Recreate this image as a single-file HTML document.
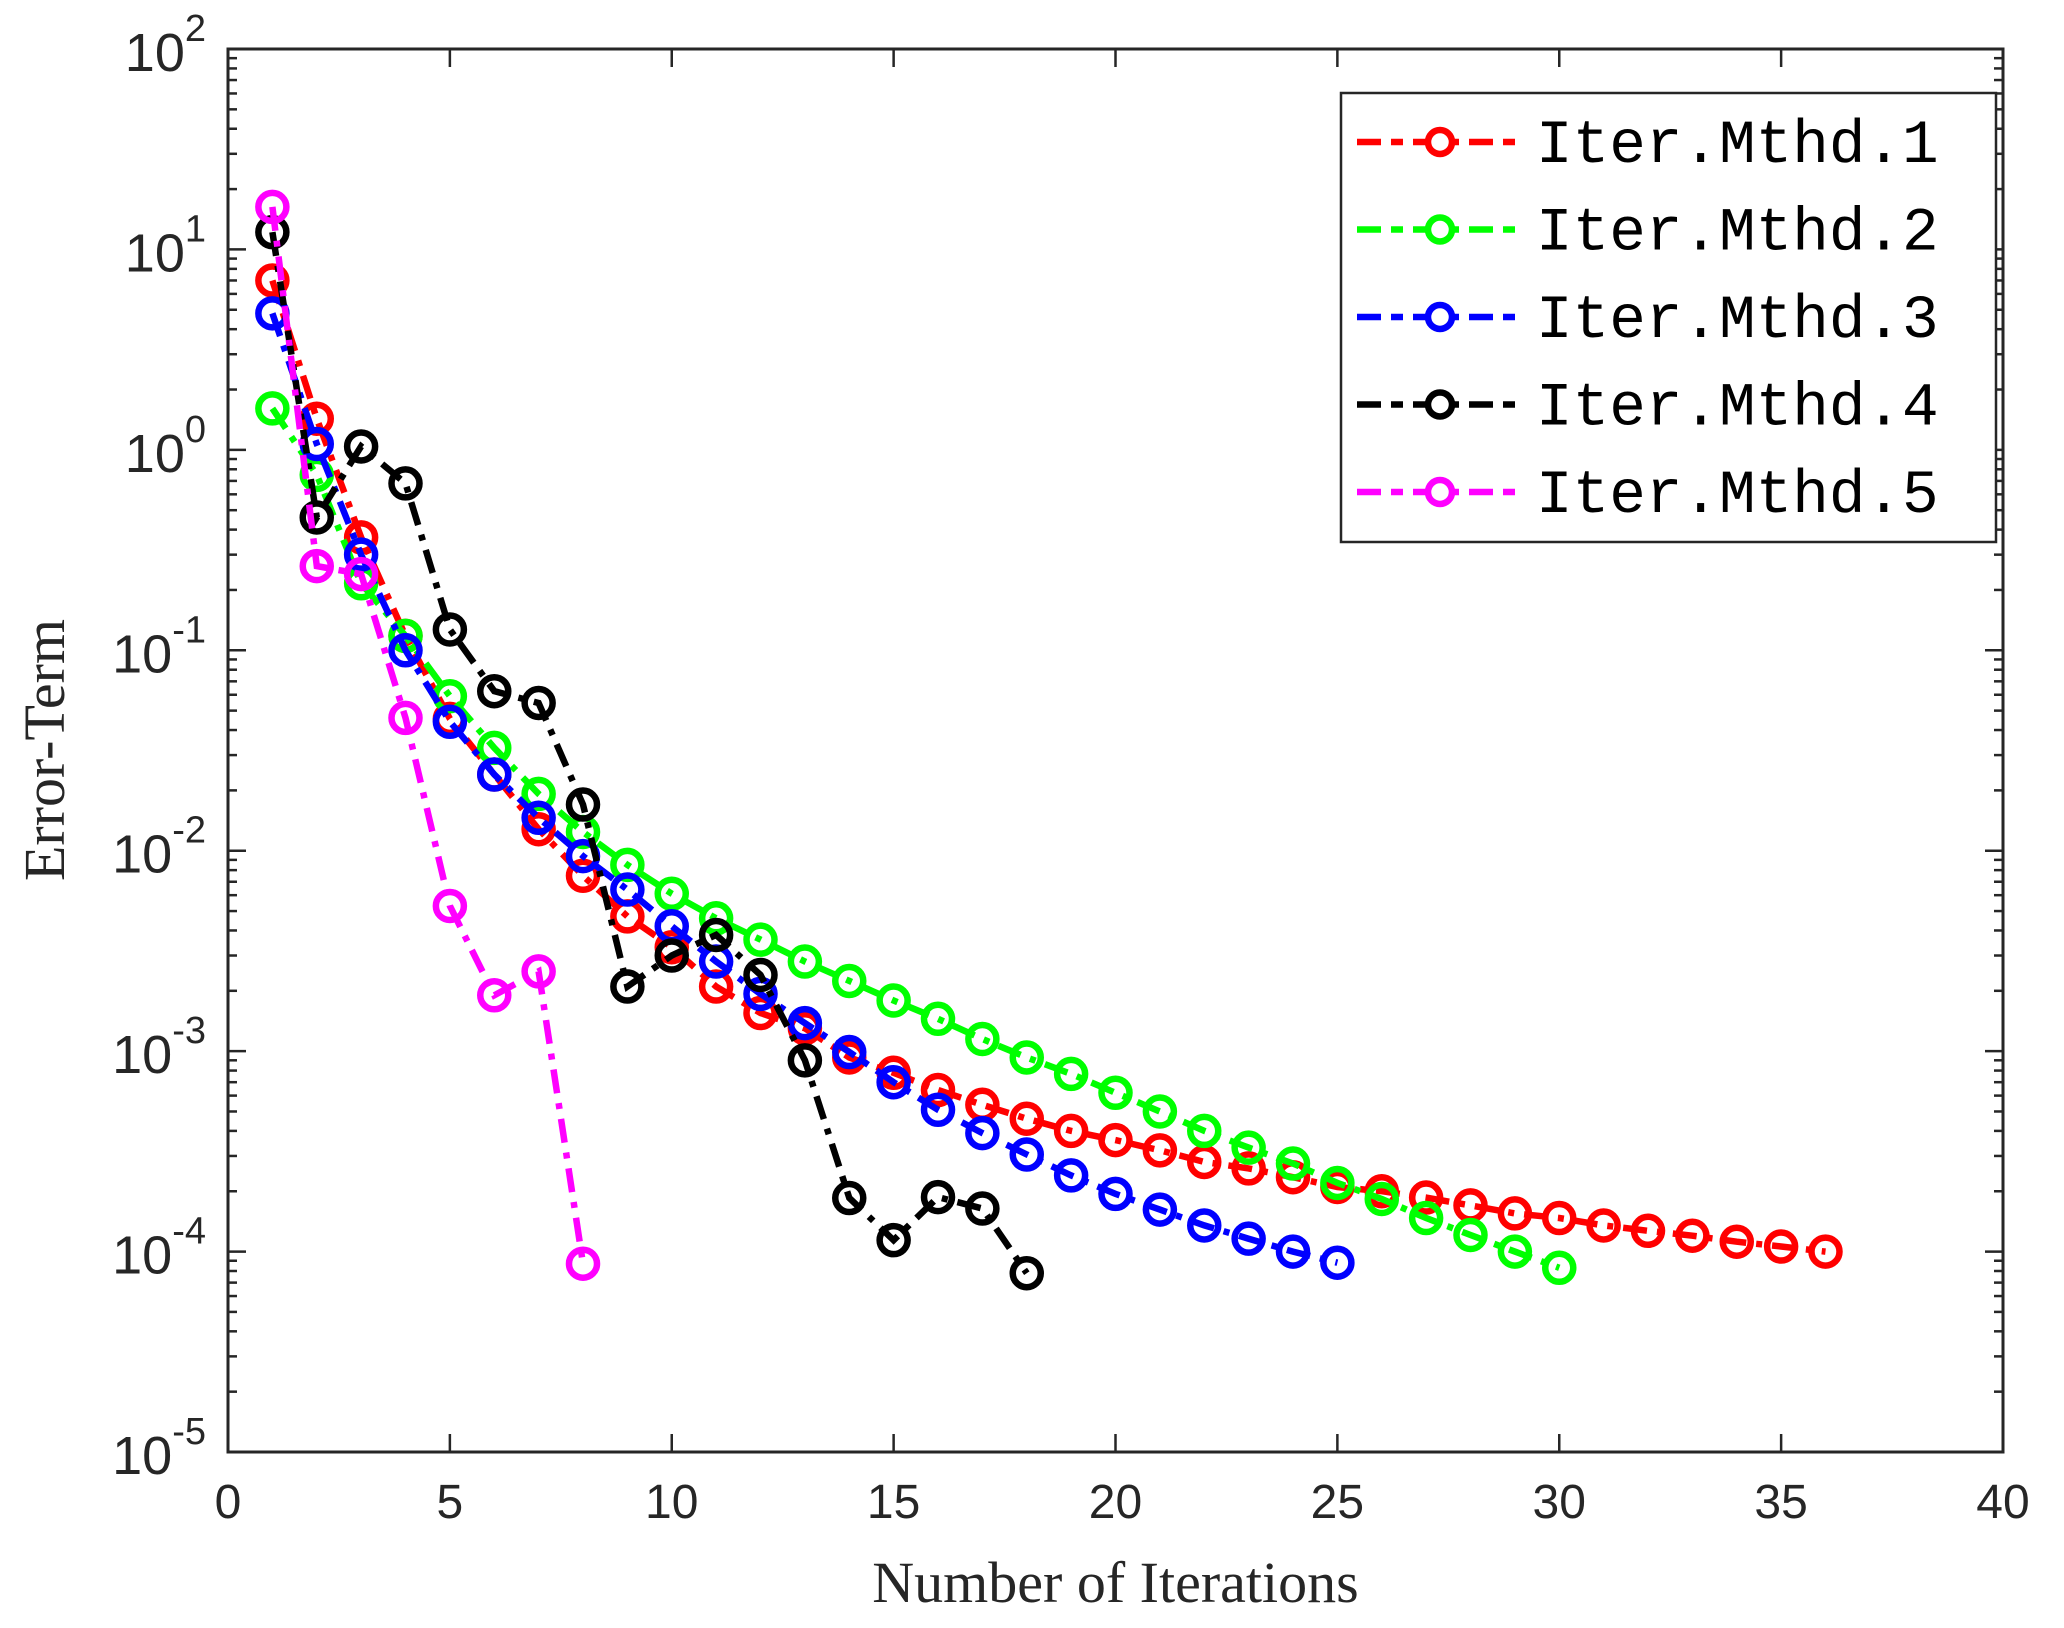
<!DOCTYPE html>
<html><head><meta charset="utf-8"><style>
html,body{margin:0;padding:0;background:#fff;}
svg{display:block;}
</style></head><body>
<svg id="chart" width="2064" height="1628" viewBox="0 0 2064 1628" xmlns="http://www.w3.org/2000/svg">
<rect x="0" y="0" width="2064" height="1628" fill="#fff"/>
<g id="plot"></g>
<g id="axes"></g>
<g id="legend"></g>
</svg>
<script>
const xTicks = [0,5,10,15,20,25,30,35,40];
const yExps = [2,1,0,-1,-2,-3,-4,-5];
const seriesNames = ["Iter.Mthd.1","Iter.Mthd.2","Iter.Mthd.3","Iter.Mthd.4","Iter.Mthd.5"];
const seriesColors = ["#ff0000","#00ff00","#0000ff","#000000","#ff00ff"];
const m1 = [7.0,1.43,0.366,0.118,0.0455,0.024,0.0128,0.0075,0.0047,0.0033,0.0021,0.00155,0.0013,0.00093,0.00078,0.00064,0.00054,0.00046,0.0004,0.00036,0.00032,0.00028,0.00026,0.000235,0.00021,0.0002,0.000186,0.00017,0.000155,0.000147,0.000135,0.000127,0.00012,0.000112,0.000106,0.0001];
const m2 = [1.61,0.75,0.216,0.118,0.059,0.0326,0.0192,0.0124,0.0085,0.0061,0.0046,0.0036,0.0028,0.00224,0.00179,0.00145,0.00115,0.00093,0.00077,0.00062,0.0005,0.0004,0.00033,0.000275,0.00022,0.000183,0.000147,0.000121,0.0001,0.000083];
const m3 = [4.8,1.07,0.30,0.1,0.044,0.024,0.0146,0.0094,0.0064,0.0042,0.0028,0.00193,0.00138,0.00099,0.0007,0.00051,0.00039,0.000305,0.00024,0.000194,0.000162,0.000135,0.000116,0.0001,0.000088];
const m4 = [12.2,0.46,1.04,0.68,0.127,0.0625,0.0546,0.017,0.0021,0.003,0.0038,0.0024,0.0009,0.000185,0.000114,0.000187,0.000164,0.000078];
const m5 = [16.3,0.263,0.24,0.046,0.0053,0.0019,0.0025,0.000087];
const seriesData = [m1,m2,m3,m4,m5];

const NS = "http://www.w3.org/2000/svg";
const L = 228, R = 2003, T = 49, B = 1452;
const xMin = 0, xMax = 40, yMaxE = 2, yMinE = -5;
function xs(v){ return L + (v - xMin) / (xMax - xMin) * (R - L); }
function ys(v){ const e = Math.log10(v); return T + (yMaxE - e) / (yMaxE - yMinE) * (B - T); }
function mk(tag, attrs, parent){ const el = document.createElementNS(NS, tag); for (const k in attrs) el.setAttribute(k, attrs[k]); parent.appendChild(el); return el; }

const plot = document.getElementById('plot');
const axes = document.getElementById('axes');
const legend = document.getElementById('legend');
const axisColor = "#262626";
const dash = "24 10 6 10";

seriesData.forEach((arr, si) => {
  const g = mk('g', {}, plot);
  
  
  const pts = arr.map((v, i) => xs(i + 1).toFixed(1) + ',' + ys(v).toFixed(1)).join(' ');
  const line = mk('polyline', {points: pts, fill: 'none', stroke: seriesColors[si], 'stroke-width': 6.5, 'stroke-dasharray': dash}, g);
  
  
  arr.forEach((v, i) => {
    const c = mk('circle', {cx: xs(i + 1), cy: ys(v), r: 14, fill: 'none', stroke: seriesColors[si], 'stroke-width': 6.5}, g);
    
    
  });
});

const box = mk('rect', {x: L, y: T, width: R - L, height: B - T, fill: 'none', stroke: axisColor, 'stroke-width': 3}, axes);



xTicks.forEach(v => {
  const x = xs(v);
  mk('line', {x1: x, y1: B, x2: x, y2: B - 18, stroke: axisColor, 'stroke-width': 2.5}, axes);
  mk('line', {x1: x, y1: T, x2: x, y2: T + 18, stroke: axisColor, 'stroke-width': 2.5}, axes);
  const t = mk('text', {x: x, y: B + 66, 'text-anchor': 'middle', 'font-family': 'Liberation Sans, sans-serif', 'font-size': 48, fill: axisColor}, axes);
  t.textContent = v;
  
  
});

yExps.forEach(e => {
  const y = ys(Math.pow(10, e));
  mk('line', {x1: L, y1: y, x2: L + 18, y2: y, stroke: axisColor, 'stroke-width': 2.5}, axes);
  mk('line', {x1: R, y1: y, x2: R - 18, y2: y, stroke: axisColor, 'stroke-width': 2.5}, axes);
  if (e > yMinE) {
    for (let k = 2; k <= 9; k++) {
      const yy = ys(k * Math.pow(10, e - 1));
      mk('line', {x1: L, y1: yy, x2: L + 9, y2: yy, stroke: axisColor, 'stroke-width': 2.5}, axes);
      mk('line', {x1: R, y1: yy, x2: R - 9, y2: yy, stroke: axisColor, 'stroke-width': 2.5}, axes);
    }
  }
  const t = mk('text', {x: L - 22, y: y + 22, 'text-anchor': 'end', 'font-family': 'Liberation Sans, sans-serif', 'font-size': 54, fill: axisColor}, axes);
  
  
  const base = mk('tspan', {}, t); base.textContent = '10';
  const sup = mk('tspan', {dy: -30, 'font-size': 38}, t); sup.textContent = String(e);
});

const xt = mk('text', {x: (L + R) / 2, y: 1602, 'text-anchor': 'middle', 'font-family': 'Liberation Serif, serif', 'font-size': 58, fill: axisColor}, axes);
xt.textContent = 'Number of Iterations';


const yt = mk('text', {x: 0, y: 0, 'text-anchor': 'middle', 'font-family': 'Liberation Serif, serif', 'font-size': 58, fill: axisColor, transform: 'translate(64,750) rotate(-90)'}, axes);
yt.textContent = 'Error-Term';



const lb = mk('rect', {x: 1341, y: 93, width: 655, height: 449, fill: '#fff', stroke: axisColor, 'stroke-width': 2.5}, legend);


seriesNames.forEach((n, i) => {
  const y = 142 + i * 87.5;
  const g = mk('g', {}, legend);
  
  
  mk('line', {x1: 1357, y1: y, x2: 1525, y2: y, stroke: seriesColors[i], 'stroke-width': 6.5, 'stroke-dasharray': '24 10 12 10'}, g);
  mk('circle', {cx: 1440, cy: y, r: 12, fill: '#fff', stroke: seriesColors[i], 'stroke-width': 6.5}, g);
  const t = mk('text', {x: 1536, y: y + 20, 'font-family': 'Liberation Mono, monospace', 'font-size': 61, fill: '#000'}, g);
  t.textContent = n;
});
</script>
</body></html>
